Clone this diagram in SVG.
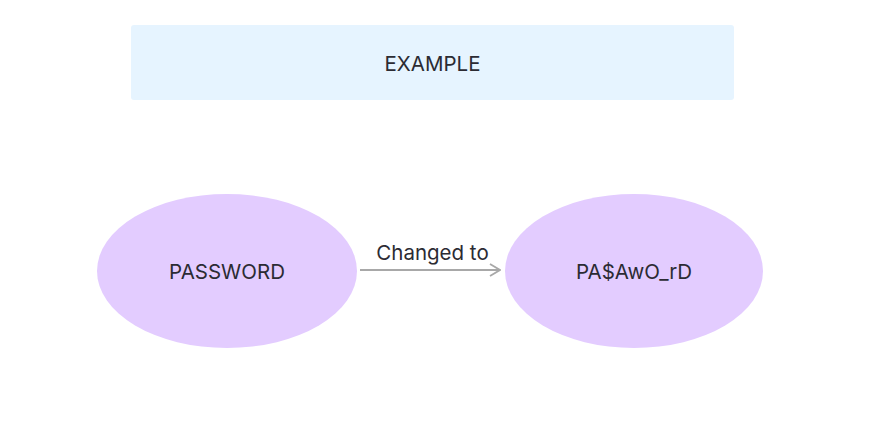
<svg xmlns="http://www.w3.org/2000/svg" width="877" height="447" viewBox="0 0 877 447">
<style>
text{font-family:Inter,"Liberation Sans",sans-serif;fill:#2b2b33;text-anchor:middle;dominant-baseline:central}
.node{fill:#e3ccff}
.t{font-size:20.5px}
.edge{stroke:#a8a8a8;stroke-width:2;fill:none}
</style>
<defs>
<marker id="arr" viewBox="0 0 12 14" refX="11" refY="7" markerWidth="12" markerHeight="14" markerUnits="userSpaceOnUse" orient="auto">
<path d="M1,1 L11,7 L1,13" fill="none" stroke="#a8a8a8" stroke-width="1.8"/>
</marker>
</defs>
<rect width="877" height="447" fill="#ffffff"/>
<g id="title">
<rect x="131" y="25" width="603" height="75" rx="3" fill="#e6f4ff"/>
<text class="t" x="432.5" y="63">EXAMPLE</text>
</g>
<g id="connectors">
<line class="edge" x1="360" y1="270" x2="500" y2="270" marker-end="url(#arr)"/>
<text class="t" x="432.5" y="252">Changed to</text>
</g>
<g id="n1">
<ellipse class="node" cx="227" cy="271" rx="130" ry="77"/>
<text class="t" x="227" y="271">PASSWORD</text>
</g>
<g id="n2">
<ellipse class="node" cx="634" cy="271" rx="129" ry="77"/>
<text class="t" x="634" y="271">PA$AwO_rD</text>
</g>
</svg>
